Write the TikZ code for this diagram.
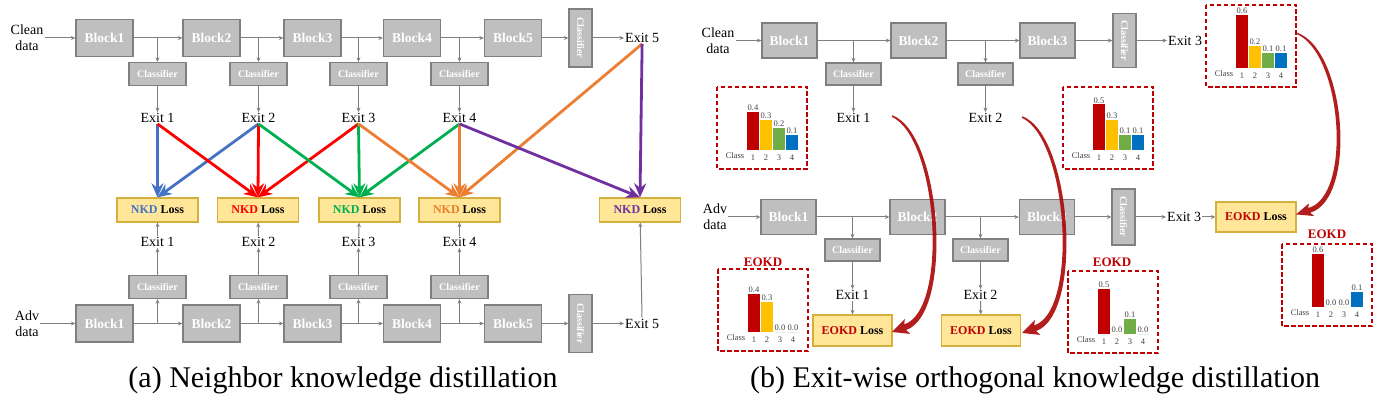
\documentclass[tikz,border=0pt]{standalone}
\usepackage{fontspec}
\setmainfont{Liberation Serif}
\usetikzlibrary{arrows.meta}

\definecolor{boxfill}{RGB}{191,191,191}
\definecolor{boxline}{RGB}{127,127,127}
\definecolor{lossfill}{RGB}{255,230,153}
\definecolor{lossline}{RGB}{214,176,60}
\definecolor{nblue}{RGB}{68,114,196}
\definecolor{nred}{RGB}{255,0,0}
\definecolor{ngreen}{RGB}{0,176,80}
\definecolor{norange}{RGB}{237,125,49}
\definecolor{npurple}{RGB}{112,48,160}
\definecolor{ered}{RGB}{192,0,0}
\definecolor{curvered}{RGB}{170,5,5}
\definecolor{bar1}{RGB}{192,0,0}
\definecolor{bar2}{RGB}{255,192,0}
\definecolor{bar3}{RGB}{112,173,71}
\definecolor{bar4}{RGB}{0,112,192}

\tikzset{
  block/.style={draw=boxline, fill=boxfill, line width=1.3pt, text=white, inner sep=0pt,
    minimum width=57pt, minimum height=37pt, font=\fontsize{13.5}{14}\selectfont\bfseries},
  sblock/.style={block, minimum width=55pt, minimum height=35pt},
  clf/.style={block, minimum width=57pt, minimum height=23pt, font=\fontsize{10}{10}\selectfont\bfseries},
  sclf/.style={clf, minimum width=55pt, minimum height=22pt},
  vclf/.style={clf, rotate=-90, minimum width=58pt, minimum height=23pt},
  lbl/.style={font=\fontsize{14}{16}\selectfont, align=center, inner sep=1pt},
  loss/.style={draw=lossline, fill=lossfill, line width=1.3pt, inner sep=0pt,
    minimum width=81pt, minimum height=24pt, font=\fontsize{12}{12}\selectfont\bfseries},
  eloss/.style={loss, minimum width=79pt, minimum height=31pt},
  conn/.style={draw=boxline, line width=1pt, -{Stealth[length=4.5pt,width=4pt]}},
  nkd/.style={line width=2.8pt, -{Stealth[length=14pt,width=12pt]}},
  probline/.style={draw=ered, line width=1.6pt, dash pattern=on 4.5pt off 2.5pt},
  tiny/.style={font=\fontsize{8.5}{9}\selectfont, inner sep=1pt, text=black!75},
  eokd/.style={font=\fontsize{13}{13}\selectfont\bfseries, text=ered},
  caption/.style={font=\fontsize{30}{32}\selectfont},
  eokd arrow/.pic={
    \fill[curvered, opacity=0.9] (0.3,-0.7) .. controls (50,18) and (62,197) .. (14.2,214)
      -- (18.2,217.9) -- (0,216) -- (12.9,202.9) -- (12.2,208.4)
      .. controls (57,194) and (46,22) .. (-0.3,0.7) -- cycle;
  }
}

% probability box: top-left corner, four values
\newcommand{\probbox}[2]{%
  \begin{scope}[shift={#1}]
    \draw[probline] (0,0) rectangle (90,82);
    \node[tiny] at (18,69) {Class};
    \foreach \v [count=\i] in {#2} {
      \pgfmathsetmacro{\barh}{\v>0 ? 7+77*\v : 0}
      \pgfmathsetmacro{\xl}{30+13*(\i-1)}
      \fill[bar\i] (\xl,63) rectangle (\xl+12,63-\barh);
      \node[tiny, anchor=south] at (\xl+6,63-\barh) {\v};
      \node[tiny] at (\xl+6,71) {\i};
    }
  \end{scope}}

\begin{document}
\begin{tikzpicture}[x=1pt, y=-1pt]
\useasboundingbox (0,0) rectangle (1376,406);

% (a) clean branch
\node[lbl] (cl) at (27,38) {Clean\\data};
\node[block] (t1) at (104.5,38) {Block1};
\node[block] (t2) at (211.5,38) {Block2};
\node[block] (t3) at (312.5,38) {Block3};
\node[block] (t4) at (412,38) {Block4};
\node[block] (t5) at (513,38) {Block5};
\node[vclf] (tc5) at (580.5,38) {Classifier};
\node[lbl, anchor=west] (te5) at (624,38) {Exit 5};
\foreach \i/\x in {1/157.5,2/258.5,3/358.5,4/459.5} {
  \node[clf] (tc\i) at (\x,74) {Classifier};
  \node[lbl] (te\i) at (\x,118) {Exit \i};
}

% (a) losses
\node[loss] (l1) at (157.5,210) {\textcolor{nblue}{NKD} Loss};
\node[loss] (l2) at (258,210) {\textcolor{nred}{NKD} Loss};
\node[loss] (l3) at (359.5,210) {\textcolor{ngreen}{NKD} Loss};
\node[loss] (l4) at (459.5,210) {\textcolor{norange}{NKD} Loss};
\node[loss] (l5) at (640,210) {\textcolor{npurple}{NKD} Loss};

% (a) adversarial branch
\node[lbl] (ad) at (27,323.5) {Adv\\data};
\node[block] (b1) at (104.5,323.5) {Block1};
\node[block] (b2) at (211.5,323.5) {Block2};
\node[block] (b3) at (312.5,323.5) {Block3};
\node[block] (b4) at (412,323.5) {Block4};
\node[block] (b5) at (513,323.5) {Block5};
\node[vclf] (bc5) at (580.5,323.5) {Classifier};
\node[lbl, anchor=west] (be5) at (624,323.5) {Exit 5};
\foreach \i/\x in {1/157.5,2/258.5,3/358.5,4/459.5} {
  \node[clf] (bc\i) at (\x,287) {Classifier};
  \node[lbl] (be\i) at (\x,242) {Exit \i};
}

\foreach \a/\b in {cl/t1,t1/t2,t2/t3,t3/t4,t4/t5,t5/tc5,tc5/te5,
                   ad/b1,b1/b2,b2/b3,b3/b4,b4/b5,b5/bc5,bc5/be5,be5/l5}
  \draw[conn] (\a) -- (\b);
\foreach \i in {1,...,4} {
  \draw[conn] (tc\i |- t1) -- (tc\i);
  \draw[conn] (tc\i) -- (te\i);
  \draw[conn] (bc\i |- b1) -- (bc\i);
  \draw[conn] (bc\i) -- (be\i);
  \draw[conn] (be\i) -- (l\i);
}

% neighbor arrows
\foreach \s/\t/\c in {te1/l1/nblue,te2/l1/nblue,te1/l2/nred,te2/l2/nred,te3/l2/nred,
                      te2/l3/ngreen,te3/l3/ngreen,te4/l3/ngreen,te3/l4/norange,
                      te4/l4/norange,te5/l4/norange,te4/l5/npurple,te5/l5/npurple}
  \draw[nkd, \c] (\s.south) -- (\t.north);

% (b) clean branch
\node[lbl] (cr) at (718,40.5) {Clean\\data};
\node[sblock] (r1) at (789.5,40.5) {Block1};
\node[sblock] (r2) at (918.5,40.5) {Block2};
\node[sblock] (r3) at (1047.5,40.5) {Block3};
\node[vclf, minimum width=54pt] (rc3) at (1124.5,40.5) {Classifier};
\node[lbl, anchor=west] (re3) at (1167,40.5) {Exit 3};
\node[sclf] (rc1) at (853.5,74) {Classifier};
\node[sclf] (rc2) at (985.5,74) {Classifier};
\node[lbl] (re1) at (853.5,118) {Exit 1};
\node[lbl] (re2) at (985.5,118) {Exit 2};

% (b) adversarial branch
\node[lbl] (ar) at (715,217) {Adv\\data};
\node[sblock] (s1) at (788.5,217) {Block1};
\node[sblock] (s2) at (917.5,217) {Block2};
\node[sblock] (s3) at (1047,217) {Block3};
\node[vclf, minimum width=56pt] (sc3) at (1123.5,217) {Classifier};
\node[lbl, anchor=west] (se3) at (1166,217) {Exit 3};
\node[eloss, minimum width=80pt, minimum height=30pt] (el3) at (1256,217) {\textcolor{ered}{EOKD} Loss};
\node[sclf] (sc1) at (852.5,250) {Classifier};
\node[sclf] (sc2) at (980.5,250) {Classifier};
\node[lbl] (se1) at (852.5,295) {Exit 1};
\node[lbl] (se2) at (980.5,295) {Exit 2};
\node[eloss] (el1) at (852.5,330.5) {\textcolor{ered}{EOKD} Loss};
\node[eloss] (el2) at (981,330.5) {\textcolor{ered}{EOKD} Loss};

\foreach \a/\b in {cr/r1,r1/r2,r2/r3,r3/rc3,rc3/re3,rc1/re1,rc2/re2,
                   ar/s1,s1/s2,s2/s3,s3/sc3,sc3/se3,se3/el3,sc1/se1,sc2/se2,se1/el1,se2/el2}
  \draw[conn] (\a) -- (\b);
\draw[conn] (rc1 |- r1) -- (rc1);
\draw[conn] (rc2 |- r1) -- (rc2);
\draw[conn] (sc1 |- s1) -- (sc1);
\draw[conn] (sc2 |- s1) -- (sc2);

% exit distributions
\probbox{(717,87)}{0.4,0.3,0.2,0.1}
\probbox{(1063,87)}{0.5,0.3,0.1,0.1}
\probbox{(1206,5)}{0.6,0.2,0.1,0.1}
\probbox{(718,269)}{0.4,0.3,0.0,0.0}
\probbox{(1068,271)}{0.5,0.0,0.1,0.0}
\probbox{(1282,244)}{0.6,0.0,0.0,0.1}
\node[eokd] (k1) at (763,262.5) {EOKD};
\node[eokd] (k2) at (1112,262) {EOKD};
\node[eokd] (k3) at (1327,234) {EOKD};

% transfer arrows
\pic at (892,116) {eokd arrow};
\pic at (1022,117) {eokd arrow};
\pic[yscale=0.84] at (1296,33) {eokd arrow};

\node[caption] (capa) at (343,380) {(a) Neighbor knowledge distillation};
\node[caption] (capb) at (1035,380) {(b) Exit-wise orthogonal knowledge distillation};
\end{tikzpicture}
\end{document}
